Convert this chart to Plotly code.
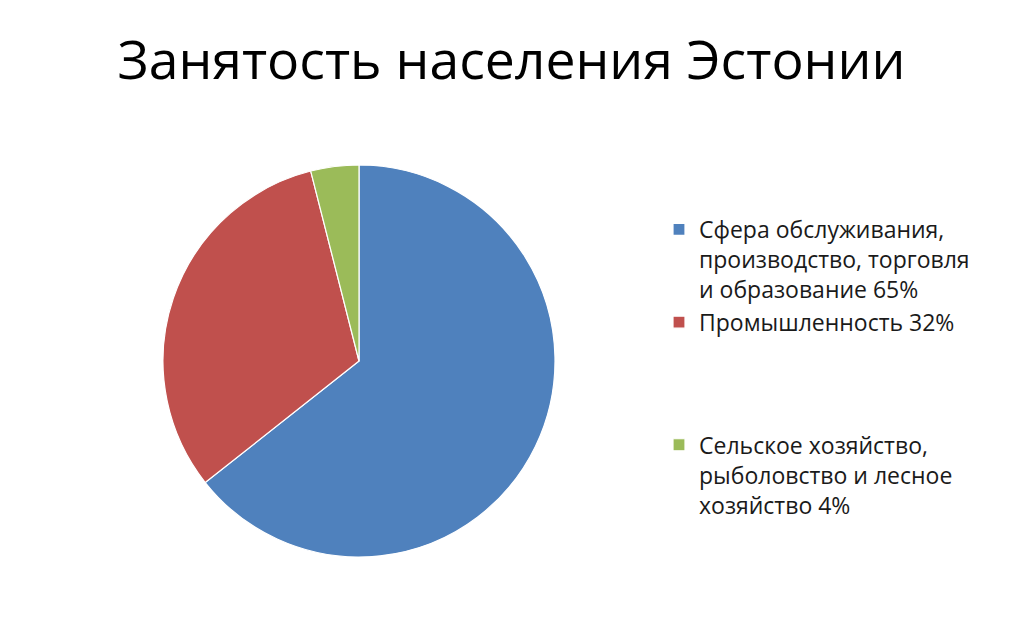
import plotly.graph_objects as go

title_text = "Занятость населения Эстонии"
labels = [
    "Сфера обслуживания,<br>производство, торговля<br>и образование 65%",
    "Промышленность 32%<br> <br> <br> ",
    "Сельское хозяйство,<br>рыболовство и лесное<br>хозяйство 4%",
]
values = [65, 32, 4]
colors = ["#4F81BD", "#C0504D", "#9BBB59"]

W, H = 1024, 639
OFF = 8  # page body margin
cx, cy, r = 359 - OFF, 361 - OFF, 196

fig = go.Figure(go.Pie(
    labels=labels,
    values=values,
    sort=False,
    direction="clockwise",
    rotation=0,
    textinfo="none",
    hoverinfo="label+percent",
    marker=dict(colors=colors, line=dict(color="white", width=1.2)),
    domain=dict(x=[(cx - r) / W, (cx + r) / W], y=[1 - (cy + r) / H, 1 - (cy - r) / H]),
))

fig.update_layout(
    width=W, height=H,
    margin=dict(l=0, r=0, t=0, b=0),
    paper_bgcolor="white",
    plot_bgcolor="white",
    font=dict(family="Open Sans, Noto Sans, sans-serif", color="#1a1a1a"),
    title=dict(
        text=title_text,
        x=(511.5 - OFF) / W, xanchor="center",
        y=1 - (60 - OFF) / H, yanchor="middle",
        font=dict(size=53.5, color="#000000", family="Open Sans, Noto Sans, sans-serif"),
    ),
    legend=dict(
        x=651 / W, xanchor="left",
        y=1 - 200 / H, yanchor="top",
        valign="top",
        font=dict(size=23, color="#1a1a1a"),
        itemwidth=30,
        tracegroupgap=0,
        bgcolor="rgba(0,0,0,0)",
    ),
)

fig.write_html("out.html")
